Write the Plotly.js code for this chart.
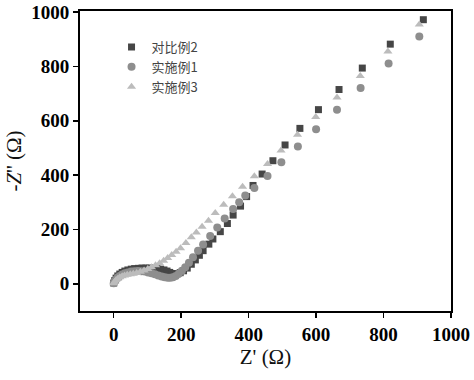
<!DOCTYPE html>
<html>
<head>
<meta charset="utf-8">
<script src="https://cdn.plot.ly/plotly-3.0.1.min.js"></script>
<style>html,body{margin:0;padding:0;background:#fff;}#chart{width:474px;height:380px;}</style>
</head>
<body>
<div id="chart"></div>
<script>
// Series names
const seriesNames = ["对比例2", "实施例1", "实施例3"];

// 对比例2 (squares)
const xA = [0, 3, 7, 12, 18, 25, 33, 42, 52, 62, 73, 84, 95, 106, 117, 128, 139, 149, 158, 166, 173, 180, 188, 197, 207, 218, 230, 242, 254, 265, 282, 294, 316, 337, 354, 376, 394, 413, 440, 472, 508, 552, 607, 668, 737, 820, 918];
const yA = [3, 12, 21, 29, 36, 42, 47, 51, 54, 56, 57, 58, 58, 58, 57, 56, 54, 51, 47, 42, 38, 36, 37, 41, 48, 58, 72, 88, 105, 122, 146, 165, 192, 222, 253, 286, 321, 362, 404, 453, 511, 572, 641, 715, 794, 882, 972];

// 实施例1 (circles)
const xB = [0, 3, 7, 12, 18, 25, 33, 42, 52, 62, 72, 82, 92, 102, 112, 122, 132, 142, 151, 160, 168, 176, 184, 193, 202, 212, 223, 235, 250, 265, 286, 307, 329, 354, 372, 390, 417, 456, 497, 546, 600, 662, 732, 815, 906];
const yB = [2, 9, 16, 23, 29, 34, 39, 42, 45, 46, 47, 46, 45, 42, 39, 35, 31, 27, 24, 22, 22, 24, 29, 37, 48, 61, 78, 98, 122, 145, 176, 207, 240, 275, 300, 325, 353, 397, 447, 505, 569, 641, 721, 811, 910];

// 实施例3 (triangles)
const xC = [0, 3, 7, 12, 18, 25, 32, 40, 49, 58, 68, 79, 90, 101, 112, 124, 136, 148, 160, 172, 185, 198, 214, 230, 245, 262, 281, 301, 326, 352, 382, 417, 456, 496, 545, 599, 662, 731, 813, 906];
const yC = [2, 8, 14, 19, 24, 28, 31, 33, 35, 37, 40, 44, 49, 55, 61, 68, 76, 85, 95, 106, 118, 131, 150, 171, 189, 210, 232, 261, 291, 322, 357, 396, 441, 491, 549, 614, 686, 765, 855, 954];

// Axis ticks
const tickVals = [0, 200, 400, 600, 800, 1000];
const tickText = ["0", "200", "400", "600", "800", "1000"];

const traces = [
  {x: xA, y: yA, name: seriesNames[0], mode: "markers", type: "scatter",
   marker: {symbol: "square", size: 7, color: "#464646"}},
  {x: xB, y: yB, name: seriesNames[1], mode: "markers", type: "scatter",
   marker: {symbol: "circle", size: 8, color: "#8e8e8e"}},
  {x: xC, y: yC, name: seriesNames[2], mode: "markers", type: "scatter",
   marker: {symbol: "triangle-up", size: 8, color: "#bcbcbc"}}
];

const serif = "'Liberation Serif', 'Times New Roman', 'DejaVu Serif', serif";
const tickFont = {family: serif, size: 19, color: "#000", weight: "bold"};
const layout = {
  width: 474, height: 380,
  margin: {l: 80, r: 23, t: 11, b: 69},
  paper_bgcolor: "#fff", plot_bgcolor: "#fff",
  showlegend: true,
  legend: {x: 0.085, y: 0.93, xanchor: "left", yanchor: "top",
           bgcolor: "rgba(0,0,0,0)", tracegroupgap: 0, itemwidth: 30,
           font: {family: "'Noto Sans CJK SC'", size: 13, color: "#444"}},
  xaxis: {range: [-100, 1000], tickvals: tickVals, ticktext: tickText,
          showgrid: false, zeroline: false, showline: true, linecolor: "#000", linewidth: 2,
          mirror: true, ticks: "outside", ticklen: 5, tickwidth: 1.5, tickcolor: "#000",
          tickfont: tickFont,
          title: {text: "Z' (Ω)", standoff: 6,
                  font: {family: serif, size: 21, color: "#111"}}},
  yaxis: {range: [-100, 1004], tickvals: tickVals, ticktext: tickText,
          showgrid: false, zeroline: false, showline: true, linecolor: "#000", linewidth: 2,
          mirror: true, ticks: "outside", ticklen: 5, tickwidth: 1.5, tickcolor: "#000",
          tickfont: tickFont,
          title: {text: "-<i>Z</i>'' (Ω)", standoff: 4,
                  font: {family: serif, size: 21, color: "#111"}}}
};

Plotly.newPlot("chart", traces, layout, {displayModeBar: false, staticPlot: true});
</script>
</body>
</html>
